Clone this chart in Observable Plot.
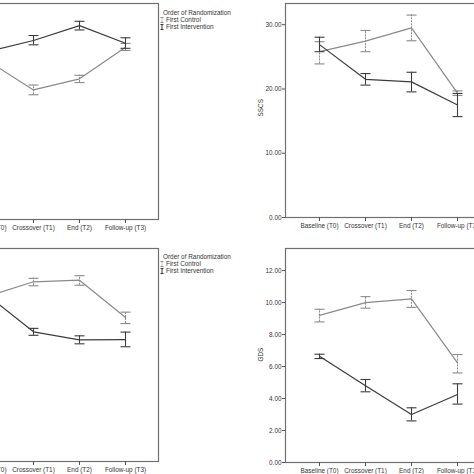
<!DOCTYPE html>
<html><head><meta charset="utf-8">
<script src="https://cdn.jsdelivr.net/npm/d3@7"></script>
<script src="https://cdn.jsdelivr.net/npm/@observablehq/plot@0.6"></script>
<style>
html,body{margin:0;padding:0;background:#fff;}
#wrap{position:relative;width:474px;height:474px;overflow:hidden;background:#fff;font-family:"Liberation Sans",Arial,sans-serif;}
.panel{position:absolute;}
.legend{position:absolute;font-size:6.4px;color:#333;line-height:7px;white-space:nowrap;}
.legend svg{vertical-align:-1px;margin-right:2px;}
</style></head><body><div id="wrap"></div>
<script>
const timepoints = ["Baseline (T0)", "Crossover (T1)", "End (T2)", "Follow-up (T3)"];
const groups = ["First Control", "First Intervention"];
const legendTitle = "Order of Randomization";

// Top-left panel (y axis outside the crop)
const tlControlMean = [29.4, 24.0, 26.05, 31.9];
const tlControlLow  = [28.4, 23.1, 25.35, 31.3];
const tlControlHigh = [30.4, 24.9, 26.7, 32.6];
const tlInterventionMean = [31.1, 33.15, 35.9, 32.65];
const tlInterventionLow  = [30.1, 32.35, 35.1, 31.7];
const tlInterventionHigh = [32.1, 34.07, 36.7, 33.65];

// Top-right panel: SSCS
const sscsControlMean = [25.8, 27.45, 29.5, 19.35];
const sscsControlLow  = [23.9, 25.8, 27.5, 19.0];
const sscsControlHigh = [27.35, 29.1, 31.5, 19.7];
const sscsInterventionMean = [26.9, 21.5, 21.1, 17.5];
const sscsInterventionLow  = [25.8, 20.6, 19.55, 15.7];
const sscsInterventionHigh = [28.05, 22.4, 22.6, 19.3];
const sscsTicks = [0, 10, 20, 30];

// Bottom-left panel (y axis outside the crop)
const blControlMean = [31.0, 33.75, 34.05, 27.05];
const blControlLow  = [30.0, 33.0, 33.1, 25.9];
const blControlHigh = [32.0, 34.4, 34.9, 28.05];
const blInterventionMean = [31.2, 24.35, 22.85, 22.9];
const blInterventionLow  = [30.5, 23.7, 22.1, 21.55];
const blInterventionHigh = [31.9, 25.0, 23.6, 24.3];

// Bottom-right panel: GDS
const gdsControlMean = [9.2, 10.0, 10.23, 6.23];
const gdsControlLow  = [8.79, 9.65, 9.7, 5.6];
const gdsControlHigh = [9.58, 10.37, 10.75, 6.75];
const gdsInterventionMean = [6.65, 4.8, 3.0, 4.25];
const gdsInterventionLow  = [6.5, 4.42, 2.6, 3.65];
const gdsInterventionHigh = [6.77, 5.19, 3.42, 4.92];
const gdsTicks = [0, 2, 4, 6, 8, 10, 12];

const GRAY = "#8a8a8a", DARK = "#3c3c3c";
const cap = {draw(ctx, size){ const r = Math.sqrt(size/Math.PI); ctx.moveTo(-r,0); ctx.lineTo(r,0); }};

function rows(mean, low, high){ return timepoints.map((t,i)=>({t, mean:mean[i], low:low[i], high:high[i]})); }

function groupMarks(data, stroke, dash){
  return [
    Plot.line(data, {x:"t", y:"mean", stroke, strokeWidth:1.2}),
    Plot.ruleX(data, {x:"t", y1:"low", y2:"high", stroke, strokeWidth:1.1, strokeDasharray:dash}),
    Plot.dot(data, {x:"t", y:"low", symbol:cap, r:5, stroke, fill:"none", strokeWidth:1.1}),
    Plot.dot(data, {x:"t", y:"high", symbol:cap, r:5, stroke, fill:"none", strokeWidth:1.1})
  ];
}

function panel({left, top, ml, mr, mt, mb, xr, ydom, yticks, ylabel, control, intervention}){
  const chart = Plot.plot({
    width:260, height:237, marginLeft:ml, marginRight:mr, marginTop:mt, marginBottom:mb,
    style:{fontFamily:'"Liberation Sans", Arial, sans-serif', fontSize:"6.4px", color:"#333", background:"transparent", overflow:"visible"},
    x:{type:"point", domain:timepoints, range:xr, padding:0, label:null},
    y:{domain:ydom, label:null, axis: yticks ? undefined : null},
    marks:[
      Plot.frame({stroke:"#707070", strokeWidth:1.2}),
      Plot.axisX({tickSize:4, tickPadding:1.5, label:null, stroke:"#555", fontSize:6.4}),
      yticks ? Plot.axisY({ticks:yticks, tickFormat:d3.format(".2f"), tickSize:3, tickPadding:1, label:null, stroke:"#555", fontSize:6.4}) : null,
      ylabel ? Plot.text([ylabel], {text:d=>d, frameAnchor:"left", rotate:-90, dx:-25, dy:6, fontSize:6.4, fill:"#333"}) : null,
      ...groupMarks(control, GRAY, "2,1"),
      ...groupMarks(intervention, DARK, null)
    ]
  });
  chart.classList.add("panel");
  chart.style.left = left + "px";
  chart.style.top = top + "px";
  document.getElementById("wrap").appendChild(chart);
}

function legend(left, top){
  const icon = (c, dash) => `<svg width="4" height="6"><line x1="0.5" x2="3.5" y1="0.5" y2="0.5" stroke="${c}"/><line x1="0.5" x2="3.5" y1="5.5" y2="5.5" stroke="${c}"/><line x1="2" x2="2" y1="0.5" y2="5.5" stroke="${c}" ${dash?'stroke-dasharray="1,1"':''}/></svg>`;
  const d = document.createElement("div");
  d.className = "legend";
  d.style.left = left + "px"; d.style.top = top + "px";
  d.innerHTML = `<div style="margin-left:3px">${legendTitle}</div><div>${icon(GRAY,true)}${groups[0]}</div><div>${icon(DARK,false)}${groups[1]}</div>`;
  document.getElementById("wrap").appendChild(d);
}

panel({left:-100, top:0, ml:53, mr:2, mt:3, mb:18, xr:[87,225], ydom:[0,40],
  control:rows(tlControlMean, tlControlLow, tlControlHigh),
  intervention:rows(tlInterventionMean, tlInterventionLow, tlInterventionHigh)});
panel({left:237, top:0, ml:48, mr:6, mt:3, mb:20, xr:[82,220], ydom:[0,33.3], yticks:sscsTicks, ylabel:"SSCS",
  control:rows(sscsControlMean, sscsControlLow, sscsControlHigh),
  intervention:rows(sscsInterventionMean, sscsInterventionLow, sscsInterventionHigh)});
panel({left:-100, top:237, ml:53, mr:2, mt:11, mb:13, xr:[87,225], ydom:[0,40],
  control:rows(blControlMean, blControlLow, blControlHigh),
  intervention:rows(blInterventionMean, blInterventionLow, blInterventionHigh)});
panel({left:237, top:237, ml:48, mr:6, mt:11, mb:12, xr:[82,220], ydom:[0,13.38], yticks:gdsTicks, ylabel:"GDS",
  control:rows(gdsControlMean, gdsControlLow, gdsControlHigh),
  intervention:rows(gdsInterventionMean, gdsInterventionLow, gdsInterventionHigh)});
legend(160, 9);
legend(160, 253);
</script></body></html>
